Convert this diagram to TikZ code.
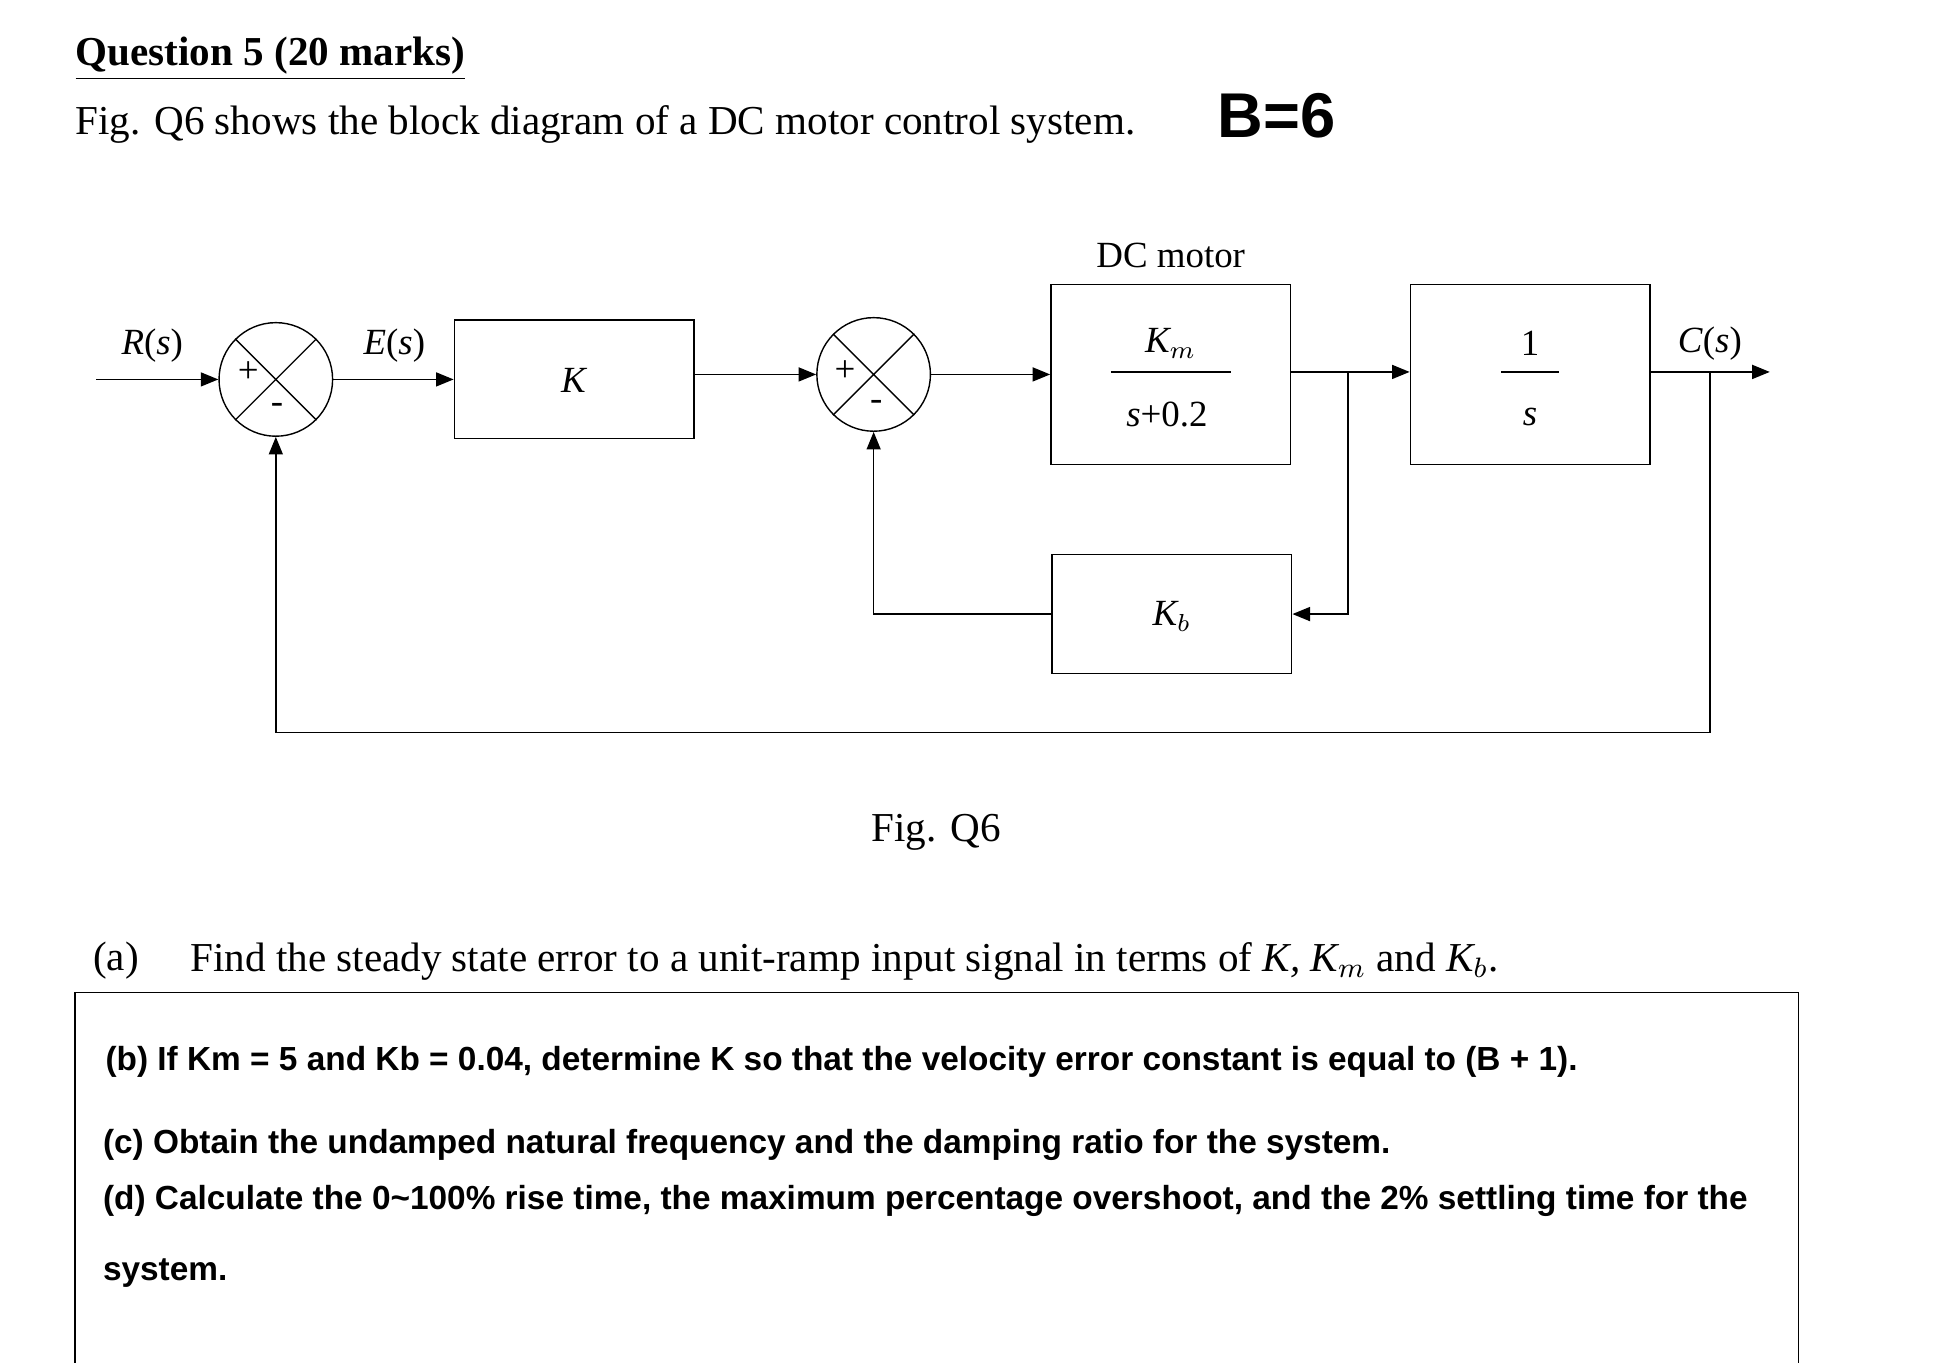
\documentclass[tikz,border=0pt]{standalone}
\usepackage{fontspec}
\setmainfont{Liberation Serif}
\newfontfamily\sansb{Liberation Sans}
\usetikzlibrary{arrows.meta}
\begin{document}
\begin{tikzpicture}[x=0.01248cm,y=-0.01248cm,
  blk/.style={draw,thin,inner sep=0pt},
  sum/.style={draw,circle,minimum size=91*0.01248cm,inner sep=0pt},
  arr/.style={-{Triangle[length=5pt,width=4pt]}},
  txt/.style={font=\fontsize{11.7}{14}\selectfont,inner sep=0pt},
  dtx/.style={font=\fontsize{10.5}{13}\selectfont,inner sep=0pt},
  qtx/.style={font=\sansb\bfseries\fontsize{9.5}{11}\selectfont,inner sep=0pt,anchor=west}]
\useasboundingbox (0,0) rectangle (1552,1092);
% header
\node[txt,anchor=west,font=\bfseries\fontsize{11.7}{14}\selectfont] (q) at (60,47) {\underline{Question 5 (20 marks)}};
\node[txt,anchor=west] (intro) at (60,100) {Fig. Q6 shows the block diagram of a DC motor control system.};
\node[anchor=west,inner sep=0pt,font=\sansb\bfseries\fontsize{18}{22}\selectfont] (b6) at (975,93) {B=6};
% blocks
\node[sum] (s1) at (221,304) {};
\draw (s1.45) -- (s1.225) (s1.135) -- (s1.315);
\node[sum] (s2) at (700,300) {};
\draw (s2.45) -- (s2.225) (s2.135) -- (s2.315);
\node[dtx] at (199,298) {+};
\node[dtx] at (222,327) {-};
\node[dtx] at (677,297) {+};
\node[dtx] at (702,325) {-};
\node[blk,minimum width=192*0.01248cm,minimum height=95*0.01248cm] (k) at (460,304) {};
\node[dtx] at (460,305) {\textit{K}};
\node[blk,minimum width=192*0.01248cm,minimum height=144*0.01248cm] (m) at (938,300) {};
\node[dtx] at (938,275) {\textit{K$_m$}};
\draw (890,298) -- (986,298);
\node[dtx] at (935,332) {\textit{s}+0.2};
\node[dtx] at (938,205) {DC motor};
\node[blk,minimum width=192*0.01248cm,minimum height=144*0.01248cm] (i) at (1226,300) {};
\node[dtx] at (1226,275) {1};
\draw (1203,298) -- (1249,298);
\node[dtx] at (1226,334) {\textit{s}};
\node[blk,minimum width=192*0.01248cm,minimum height=95*0.01248cm] (kb) at (939,492) {};
\node[dtx] at (939,494) {\textit{K$_b$}};
% labels
\node[dtx] at (122,277) {\textit{R}(\textit{s})};
\node[dtx] at (316,277) {\textit{E}(\textit{s})};
\node[dtx] at (1370,275) {\textit{C}(\textit{s})};
% connectors
\coordinate (in) at (77,304);
\coordinate (out) at (1418,298);
\coordinate (br1) at (1080,298);
\coordinate (br2) at (1370,298);
\draw[arr] (in) -- (s1.west);
\draw[arr] (s1.east) -- (k.west);
\draw[arr] (k.east |- s2.west) -- (s2.west);
\draw[arr] (s2.east) -- (m.west);
\draw[arr] (m.east |- br1) -- (i.west |- br1);
\draw[arr] (i.east |- out) -- (out);
\draw[arr] (br1) |- (kb.east);
\draw[arr] (kb.west) -| (s2.south);
\draw[arr] (br2) -- (1370,587) -| (s1.south);
% text below
\node[txt] (fig) at (750,667) {Fig. Q6};
\node[txt,anchor=west] at (74,770) {(a)};
\node[txt,anchor=west] at (152,770) {Find the steady state error to a unit-ramp input signal in terms of \textit{K, K$_m$} and \textit{K$_b$}.};
\draw (60,1100) -- (60,795) -- (1441,795) -- (1441,1100);
\node[qtx] at (84,851) {(b) If Km = 5 and Kb = 0.04, determine K so that the velocity error constant is equal to (B + 1).};
\node[qtx] at (82,917) {(c) Obtain the undamped natural frequency and the damping ratio for the system.};
\node[qtx] at (82,962) {(d) Calculate the 0\textasciitilde100\% rise time, the maximum percentage overshoot, and the 2\% settling time for the};
\node[qtx] at (82,1020) {system.};
\end{tikzpicture}
\end{document}
